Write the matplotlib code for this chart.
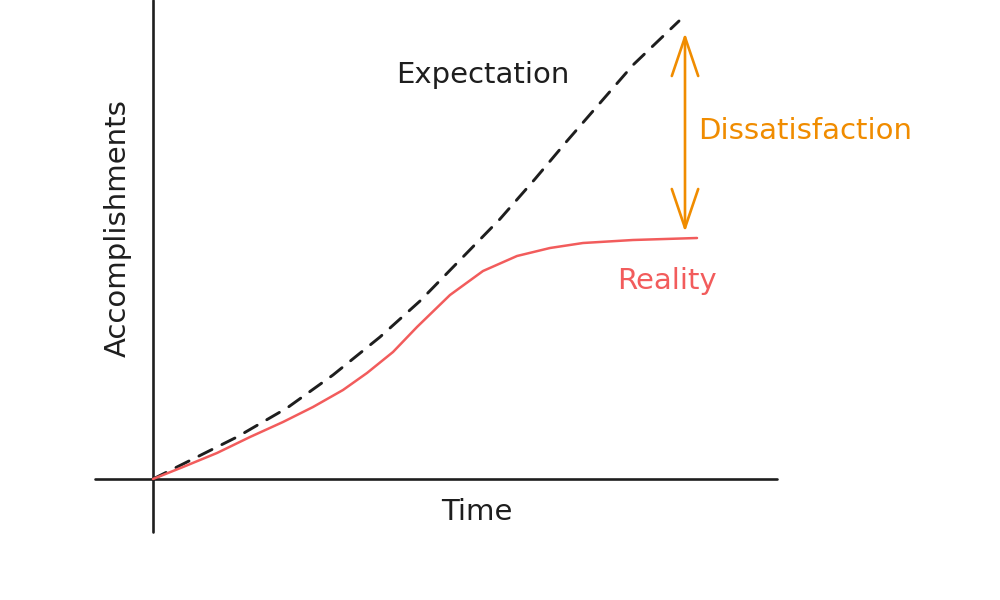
import numpy as np
import matplotlib.pyplot as plt

# values (origin of the sketch = (0, 0))
time_expect = [0, 34, 84, 134, 180, 227, 267, 307, 347, 382, 414, 447, 480, 526]
expectation = [0, 17, 42, 71, 104, 142, 178, 219, 260, 300, 338, 376, 414, 458]
time_real = [0, 30, 64, 97, 130, 160, 190, 214, 240, 264, 297, 330, 364, 397, 430, 480, 544]
reality = [0, 12, 26, 42, 57, 72, 89, 106, 127, 152, 184, 208, 223, 231, 236, 239, 241]

gap_x = 532
gap_top = 446
gap_bottom = 247

black = "#1e1e1e"
red = "#f25c5c"
orange = "#f08c00"

plt.rcParams['font.family'] = ['DejaVu Sans']

fig = plt.figure(figsize=(10, 6), dpi=100)
ax = fig.add_axes([0, 0, 1, 1])
ax.set_xlim(-153, 847)
ax.set_ylim(-121, 479)
ax.axis("off")

# axes of the sketch
ax.plot([-58, 624], [0, 0], color=black, lw=1.9, solid_capstyle="round")
ax.plot([0, 0], [479, -53], color=black, lw=1.9, solid_capstyle="round")

# curves
ax.plot(time_expect, expectation, color=black, lw=2.1, dashes=(5, 3.8),
        dash_capstyle="round", dash_joinstyle="round")
ax.plot(time_real, reality, color=red, lw=1.8, solid_capstyle="round", solid_joinstyle="round")

# dissatisfaction arrow
ax.annotate("", xy=(gap_x, gap_top), xytext=(gap_x, gap_bottom),
            arrowprops=dict(arrowstyle="<->,head_length=2.8,head_width=0.95", color=orange, lw=1.9,
                            mutation_scale=10, shrinkA=0, shrinkB=0))

ax.text(330, 404, "Expectation", fontsize=21, color=black, ha="center", va="center")
ax.text(545, 348, "Dissatisfaction", fontsize=21, color=orange, ha="left", va="center")
ax.text(464, 198, "Reality", fontsize=21, color=red, ha="left", va="center")
ax.text(324, -33, "Time", fontsize=21, color=black, ha="center", va="center")
ax.text(-35, 251, "Accomplishments", fontsize=21, color=black, ha="center", va="center", rotation=90)

plt.savefig("out.png", dpi=100, facecolor="white")
